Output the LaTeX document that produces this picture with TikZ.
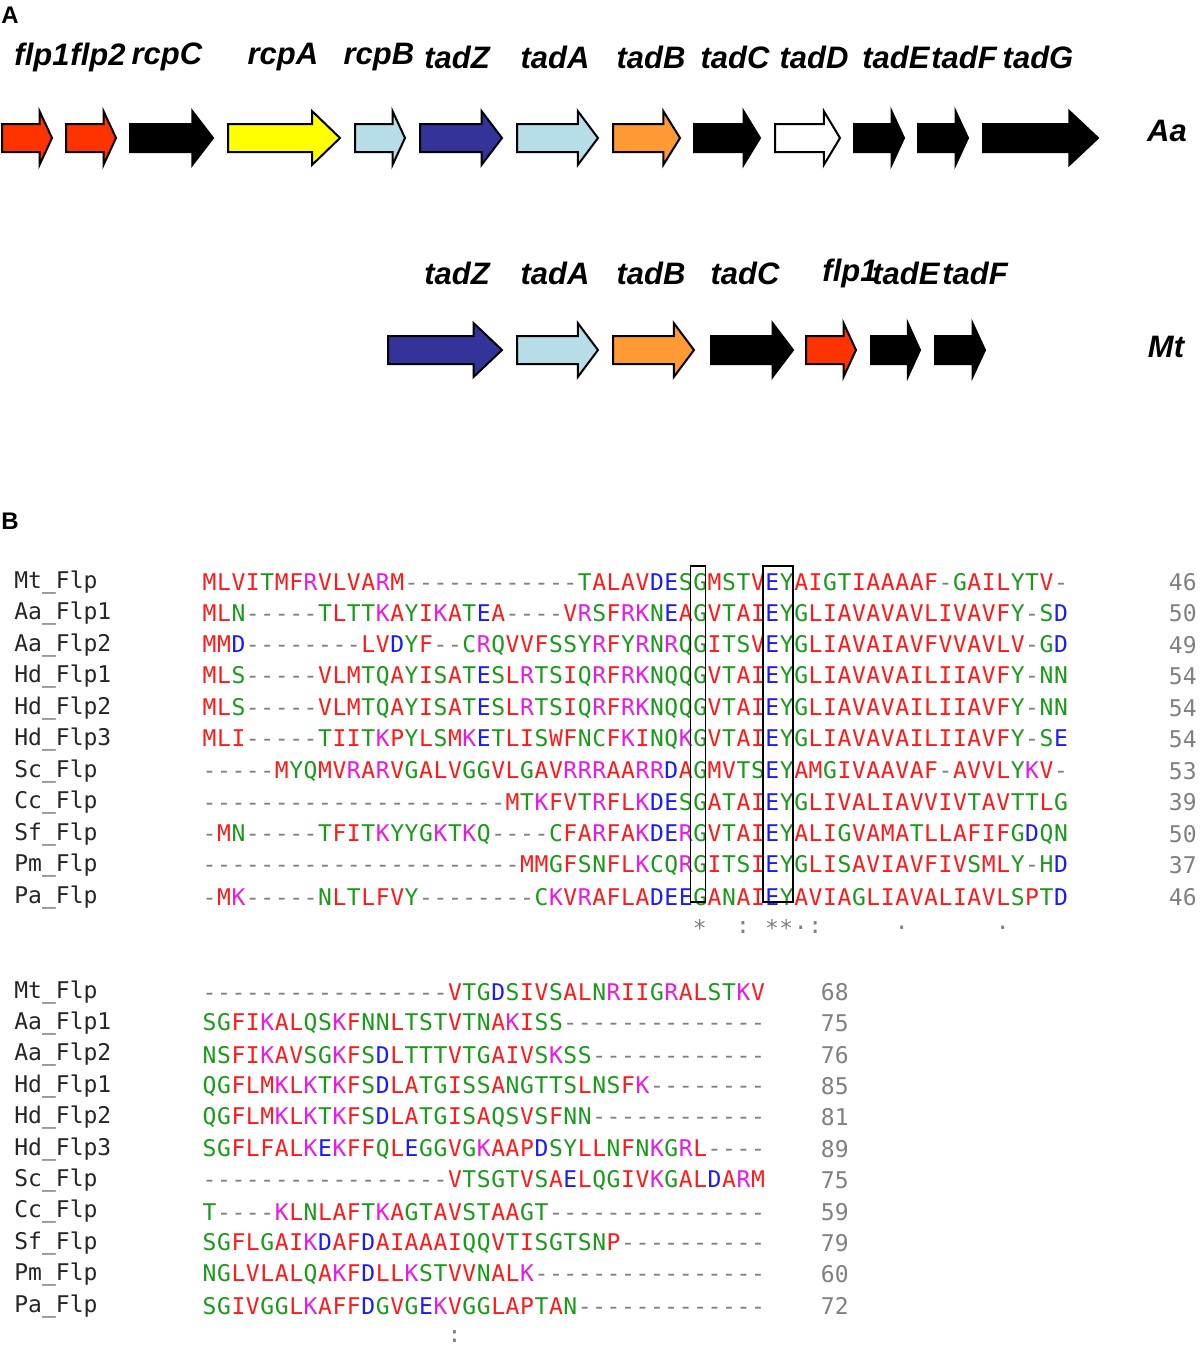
\documentclass[tikz,border=0pt]{standalone}
\usepackage{fontspec}
\setmainfont{Liberation Sans}
\newfontfamily\seqfont{DejaVu Sans Mono}
\definecolor{cr}{HTML}{FF1A1A}
\definecolor{cb}{HTML}{1A1AFF}
\definecolor{cm}{HTML}{E61AE6}
\definecolor{cg}{HTML}{1A9A1A}
\definecolor{cgr}{HTML}{808080}
\definecolor{gred}{HTML}{FF3300}
\definecolor{gyel}{HTML}{FFFF00}
\definecolor{glb}{HTML}{B7DEE8}
\definecolor{gdb}{HTML}{333399}
\definecolor{gor}{HTML}{FF9933}
\def\cc#1#2{\expandafter\def\csname aac#1\endcsname{#2}}
\cc A{cr}\cc V{cr}\cc F{cr}\cc P{cr}\cc M{cr}\cc I{cr}\cc L{cr}\cc W{cr}
\cc D{cb}\cc E{cb}\cc R{cm}\cc K{cm}
\cc S{cg}\cc T{cg}\cc Y{cg}\cc H{cg}\cc C{cg}\cc N{cg}\cc G{cg}\cc Q{cg}
\cc -{cgr}
\def\aacol#1{\makebox[7.215pt][c]{\color{\csname aac#1\endcsname}#1}}
\def\seq#1{\seqi#1\relax}
\def\seqi#1{\ifx#1\relax\else\aacol{#1}\expandafter\seqi\fi}
\newcommand\garrow[5]{% name, x0, x1, y, color
  \pgfmathsetmacro\hl{0.25*(#3-#2)}
  \draw[line width=1pt,fill=#5] (#2,#4-14) -- ({#3-\hl},#4-14) -- ({#3-\hl},#4-27) -- (#3,#4) -- ({#3-\hl},#4+27) -- ({#3-\hl},#4+14) -- (#2,#4+14) -- cycle;
  \coordinate (#1) at ({(#2+#3)/2},#4);}
\tikzset{glab/.style={font=\bfseries\itshape\fontsize{15.5}{16}\selectfont,inner sep=0pt},
  sq/.style={anchor=west,inner sep=0pt,font=\seqfont\fontsize{11.5}{12}\selectfont},
  nm/.style={anchor=west,inner sep=0pt,font=\seqfont\fontsize{11.5}{12}\selectfont,text=black!85},
  num/.style={anchor=east,inner sep=0pt,font=\seqfont\fontsize{11.5}{12}\selectfont,text=cgr},
  cons/.style={inner sep=0pt,font=\seqfont\fontsize{11.5}{12}\selectfont,text=cgr}}
\begin{document}
\begin{tikzpicture}[x=0.5pt,y=-0.5pt]
\useasboundingbox (0,0) rectangle (1200,1351);
\node[font=\bfseries\fontsize{12}{12}\selectfont] (A) at (10,15) {A};
\node[font=\bfseries\fontsize{12}{12}\selectfont] (B) at (10,521) {B};
% Aa row
\garrow{a1}{2}{52}{138}{gred}
\garrow{a2}{66}{116}{138}{gred}
\garrow{a3}{130}{213}{138}{black}
\garrow{a4}{228}{340}{138}{gyel}
\garrow{a5}{355}{405}{138}{glb}
\garrow{a6}{420}{502}{138}{gdb}
\garrow{a7}{517}{598}{138}{glb}
\garrow{a8}{613}{680}{138}{gor}
\garrow{a9}{694}{760}{138}{black}
\garrow{a10}{775}{840}{138}{white}
\garrow{a11}{854}{904}{138}{black}
\garrow{a12}{918}{968}{138}{black}
\garrow{a13}{983}{1098}{138}{black}
\foreach \x/\t in {42/flp1,98/flp2,167/rcpC,283/rcpA,379/rcpB,457/tadZ,555/tadA,651/tadB,735/tadC,814/tadD,896/tadE,964/tadF,1038/tadG}
  \node[glab] (la\t) at (\x,57) {\t};
\node[glab] (Aa) at (1167,131) {Aa};
% Mt row
\garrow{m1}{388}{502}{350}{gdb}
\garrow{m2}{517}{598}{350}{glb}
\garrow{m3}{613}{694}{350}{gor}
\garrow{m4}{711}{793}{350}{black}
\garrow{m5}{806}{856}{350}{gred}
\garrow{m6}{871}{920}{350}{black}
\garrow{m7}{935}{985}{350}{black}
\foreach \x/\t in {457/tadZ,555/tadA,651/tadB,745/tadC,850/flp1,906/tadE,975/tadF}
  \node[glab] (lm\t) at (\x,273) {\t};
\node[glab] (Mt) at (1166,347) {Mt};
% alignment block 1
\foreach \i/\n/\s/\c in {
0/Mt\_Flp/MLVITMFRVLVARM------------TALAVDESGMSTVEYAIGTIAAAAF-GAILYTV-/46,
1/Aa\_Flp1/MLN-----TLTTKAYIKATEA----VRSFRKNEAGVTAIEYGLIAVAVAVLIVAVFY-SD/50,
2/Aa\_Flp2/MMD--------LVDYF--CRQVVFSSYRFYRNRQGITSVEYGLIAVAIAVFVVAVLV-GD/49,
3/Hd\_Flp1/MLS-----VLMTQAYISATESLRTSIQRFRKNQQGVTAIEYGLIAVAVAILIIAVFY-NN/54,
4/Hd\_Flp2/MLS-----VLMTQAYISATESLRTSIQRFRKNQQGVTAIEYGLIAVAVAILIIAVFY-NN/54,
5/Hd\_Flp3/MLI-----TIITKPYLSMKETLISWFNCFKINQKGVTAIEYGLIAVAVAILIIAVFY-SE/54,
6/Sc\_Flp/-----MYQMVRARVGALVGGVLGAVRRRAARRDAGMVTSEYAMGIVAAVAF-AVVLYKV-/53,
7/Cc\_Flp/---------------------MTKFVTRFLKDESGATAIEYGLIVALIAVVIVTAVTTLG/39,
8/Sf\_Flp/-MN-----TFITKYYGKTKQ----CFARFAKDERGVTAIEYALIGVAMATLLAFIFGDQN/50,
9/Pm\_Flp/----------------------MMGFSNFLKCQRGITSIEYGLISAVIAVFIVSMLY-HD/37,
10/Pa\_Flp/-MK-----NLTLFVY--------CKVRAFLADEEGANAIEYAVIAGLIAVALIAVLSPTD/46}{
  \node[nm] (n1\i) at (14,582+31.5*\i) {\n};
  \node[sq] (s1\i) at (202,582+31.5*\i) {\expandafter\seq\expandafter{\s}};
  \node[num] (c1\i) at (1197,582+31.5*\i) {\c};
}
\draw[line width=0.8pt] (s10.west) ++(488.5,-16) rectangle ++(15,336);
\draw[line width=0.8pt] (s10.west) ++(561,-16) rectangle ++(30,336);
\foreach \p/\ch in {35/*,38/:,40/*,41/*,42/.,43/:,49/.,56/.}
  \node[cons] (k\p) at ({202+14.43*(\p-0.5)},928) {\ch};
% alignment block 2
\foreach \i/\n/\s/\c in {
0/Mt\_Flp/-----------------VTGDSIVSALNRIIGRALSTKV/68,
1/Aa\_Flp1/SGFIKALQSKFNNLTSTVTNAKISS--------------/75,
2/Aa\_Flp2/NSFIKAVSGKFSDLTTTVTGAIVSKSS------------/76,
3/Hd\_Flp1/QGFLMKLKTKFSDLATGISSANGTTSLNSFK--------/85,
4/Hd\_Flp2/QGFLMKLKTKFSDLATGISAQSVSFNN------------/81,
5/Hd\_Flp3/SGFLFALKEKFFQLEGGVGKAAPDSYLLNFNKGRL----/89,
6/Sc\_Flp/-----------------VTSGTVSAELQGIVKGALDARM/75,
7/Cc\_Flp/T----KLNLAFTKAGTAVSTAAGT---------------/59,
8/Sf\_Flp/SGFLGAIKDAFDAIAAAIQQVTISGTSNP----------/79,
9/Pm\_Flp/NGLVLALQAKFDLLKSTVVNALK----------------/60,
10/Pa\_Flp/SGIVGGLKAFFDGVGEKVGGLAPTAN-------------/72}{
  \node[nm] (n2\i) at (14,992+31.4*\i) {\n};
  \node[sq] (s2\i) at (202,992+31.4*\i) {\expandafter\seq\expandafter{\s}};
  \node[num] (c2\i) at (849,992+31.4*\i) {\c};
}
\node[cons] (k2) at ({202+14.43*17.5},1337) {:};
\end{tikzpicture}
\end{document}
